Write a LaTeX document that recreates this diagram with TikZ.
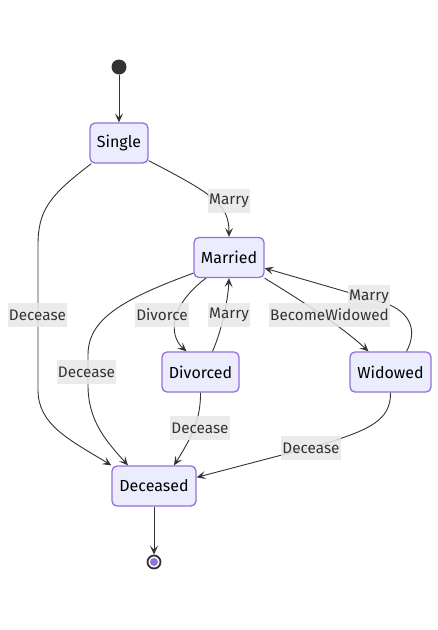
\documentclass[tikz,border=0pt]{standalone}
\usepackage{fontspec}
\setmainfont{Fira Sans}
\usetikzlibrary{arrows.meta,calc}
\definecolor{nodefill}{HTML}{ECECFF}
\definecolor{nodeline}{HTML}{9370DB}
\definecolor{ink}{HTML}{333333}
\definecolor{lblbg}{HTML}{E8E8E8}
\begin{document}
\begin{tikzpicture}[x=1pt,y=-1pt,
  font=\fontsize{15.3}{18}\selectfont,
  state/.style={draw=nodeline,fill=nodefill,line width=1.3pt,rounded corners=5pt,
    minimum height=40pt,inner sep=0pt,text=black,font=\fontsize{16}{18}\selectfont},
  lbl/.style={fill=lblbg,fill opacity=0.85,text opacity=1,text=ink,inner sep=1pt,
    minimum height=24pt},
  edge/.style={draw=ink,line width=0.9pt,-{Stealth[length=9pt,width=8pt,inset=4pt]}}]
\useasboundingbox[fill=white] (0,0) rectangle (438,630);

% states
\node[circle,fill=ink,minimum size=15pt,inner sep=0pt] (start) at (119,67) {};
\node[state,minimum width=58pt] (single) at (119,143) {Single};
\node[state,minimum width=70pt] (married) at (229,257.5) {Married};
\node[state,minimum width=77pt] (divorced) at (200.5,372) {Divorced};
\node[state,minimum width=81pt] (widowed) at (390.5,372) {Widowed};
\node[state,minimum width=84pt] (deceased) at (154,486) {Deceased};
\node[circle,draw=ink,line width=1.8pt,fill=white,minimum size=13pt,inner sep=0pt] (end) at (154,562) {};
\fill[nodeline] (end.center) circle (4pt);

% connectors
\draw[edge] (start) -- (single.north);
\draw[edge] ([yshift=3pt]single.south east) .. controls (215,195) and (229,205) .. (married.north);
\draw[edge] ([xshift=2pt]single.south west) .. controls (50,195) and (38,210) .. (38,245)
  -- (38,390) .. controls (38,425) and (70,440) .. (deceased.north west);
\draw[edge] ([yshift=5pt]married.south west) .. controls (120,300) and (88,320) .. (88,355)
  -- (88,385) .. controls (88,420) and (105,440) .. ([xshift=-26pt]deceased.north);
\draw[edge] ([xshift=-23pt]married.south) .. controls (170,305) and (168,335) .. ([xshift=-14pt]divorced.north);
\draw[edge] ([xshift=12pt]divorced.north) .. controls (222,330) and (228,300) .. (married.south);
\draw[edge] (married.south east) .. controls (300,300) and (340,325) .. ([xshift=-22pt]widowed.north);
\draw[edge] ([xshift=16pt]widowed.north) .. controls (418,330) and (410,312) .. (385,303) -- ([yshift=10pt]married.south east);
\draw[edge] (divorced.south) .. controls (201,420) and (190,440) .. ([xshift=20pt]deceased.north);
\draw[edge] (widowed.south) .. controls (391,420) and (370,430) .. (320,445) -- ([yshift=-12pt]deceased.north east);
\draw[edge] (deceased.south) -- (end.north);

% labels
\node[lbl] (l1) at (229,201) {Marry};
\node[lbl] (l2) at (37.5,315) {Decease};
\node[lbl] (l3) at (86.5,372) {Decease};
\node[lbl] (l4) at (162,315) {Divorce};
\node[lbl] (l5) at (229,315) {Marry};
\node[lbl] (l6) at (369,297) {Marry};
\node[lbl] (l7) at (329.5,315) {BecomeWidowed};
\node[lbl] (l8) at (200,428) {Decease};
\node[lbl] (l9) at (311,448) {Decease};
\end{tikzpicture}
\end{document}
